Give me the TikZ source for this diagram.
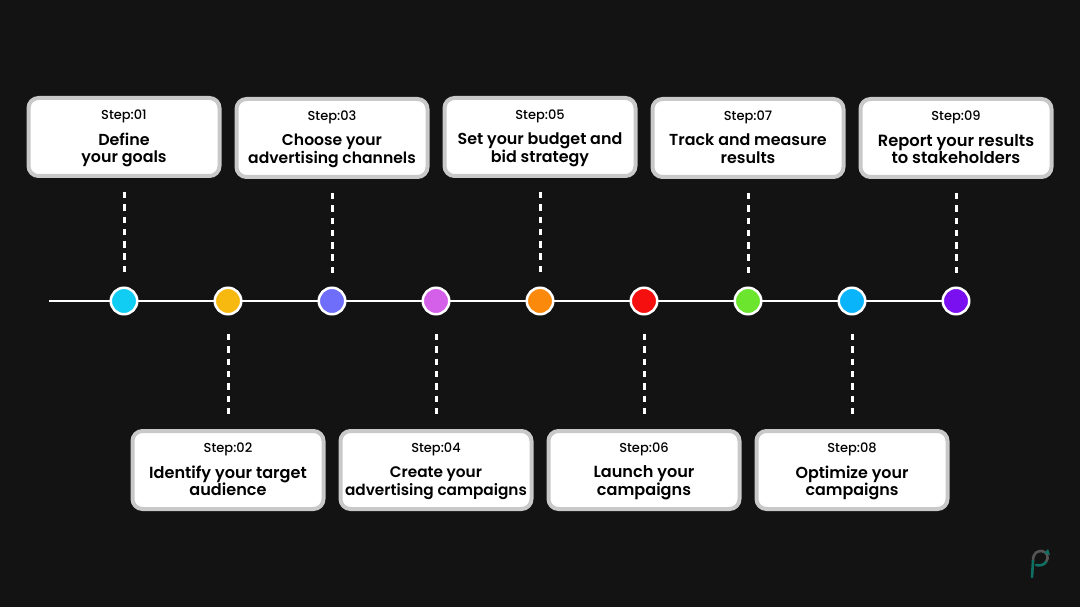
\documentclass[tikz,border=0pt]{standalone}
\usepackage{fontspec}
\setmainfont{Poppins}[BoldFont={* Medium}]
\newfontfamily\titlefont{Poppins SemiBold}
\definecolor{bg}{HTML}{131313}
\definecolor{edgegray}{HTML}{C9C9C9}
\definecolor{teal1}{HTML}{0F6F62}
\definecolor{gray1}{HTML}{555555}
\definecolor{dc1}{HTML}{12CDF3}
\definecolor{dc2}{HTML}{F7B90F}
\definecolor{dc3}{HTML}{6E6EFB}
\definecolor{dc4}{HTML}{D45FE8}
\definecolor{dc5}{HTML}{FB8A0C}
\definecolor{dc6}{HTML}{F50F0F}
\definecolor{dc7}{HTML}{6CE52F}
\definecolor{dc8}{HTML}{0AB4FB}
\definecolor{dc9}{HTML}{7A0FF0}
\newcommand{\twolines}[2]{\vphantom{Agy}#1\\\vphantom{Agy}#2}
\tikzset{
 card/.style={draw=edgegray,fill=white,line width=4pt,rounded corners=10pt,minimum width=191pt,minimum height=78pt,inner sep=0pt},
 dot/.style={circle,draw=white,line width=2.5pt,minimum size=26.5pt,inner sep=0pt},
 dashline/.style={draw=white,line width=3pt,dash pattern=on 6.4pt off 5.9pt},
 stepl/.style={font=\fontsize{13}{14}\selectfont\bfseries,text=black,inner sep=0pt,anchor=base},
 titlel/.style={font=\fontsize{#1}{17.6}\selectfont\titlefont,text=black,align=center,inner sep=0pt},
}
\begin{document}
\begin{tikzpicture}[x=1pt,y=-1pt]
\fill[bg] (0,0) rectangle (1080,607);
\useasboundingbox (0,0) rectangle (1080,607);
\coordinate (start) at (49,301);
\coordinate (end) at (956,301);
\draw[white,line width=2.5pt] (start) -- (end);
\foreach \n/\x in {1/124,2/228,3/332,4/436,5/540,6/644,7/748,8/852,9/956}{
  \node[dot,fill=dc\n] (d\n) at (\x,301) {};
}
% top cards
\foreach \n/\x/\yy/\fs/\l in {1/124/137/15.9/{\twolines{Define}{your goals}},3/332/138/15.6/{\twolines{Choose your}{advertising channels}},5/540/137/15.9/{\twolines{Set your budget and}{bid strategy}},7/748/138/15.9/{\twolines{Track and measure}{results}},9/956/138/16.3/{\twolines{Report your results}{to stakeholders}}}{
  \node[card] (b\n) at (\x,\yy) {};
  \node[stepl] (s\n) at (\x,\yy-17.5) {Step:0\n};
  \node[titlel=\fs] (t\n) at (\x,\yy+13) {\l};
  \draw[dashline,shorten >=14pt,shorten <=14pt] (b\n.south) -- (d\n.north);
}
% bottom cards
\foreach \n/\x/\fs/\l in {2/228/16.1/{\twolines{Identify your target}{audience}},4/436/15.3/{\twolines{Create your}{advertising campaigns}},6/644/16.1/{\twolines{Launch your}{campaigns}},8/852/15.9/{\twolines{Optimize your}{campaigns}}}{
  \node[card] (b\n) at (\x,470) {};
  \node[stepl] (s\n) at (\x,452) {Step:0\n};
  \node[titlel=\fs] (t\n) at (\x,483) {\l};
  \draw[dashline,shorten >=14pt,shorten <=18.5pt] (d\n.south) -- (b\n.north);
}
% logo
\draw[gray1,line width=2.6pt,line cap=round] (1033,561) .. controls (1033,552) and (1038,551) .. (1042,551) .. controls (1048,552) and (1049,558) .. (1046,562);
\draw[teal1,line width=2.6pt,line cap=round] (1033,561) -- (1032,577);
\draw[teal1,line width=2.6pt,line cap=round] (1046,562) .. controls (1044,565) and (1040,566) .. (1036,565);
\fill[teal1] (1044,553) -- (1048,549) -- (1050,555) -- cycle;
\end{tikzpicture}
\end{document}
